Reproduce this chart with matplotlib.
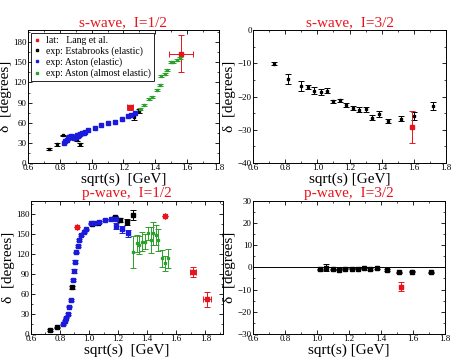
import numpy as np
import matplotlib
matplotlib.use('Agg')
import matplotlib.pyplot as plt
from matplotlib.ticker import MultipleLocator
from matplotlib.lines import Line2D

plt.rcParams['font.family'] = ['Liberation Serif', 'DejaVu Serif']

RED = '#e8141c'
BLUE = '#1a1adc'
GREEN = '#2ca02c'
BLACK = 'black'

# ---- s-wave, I=1/2 ----
s12_lat_x = [1.241, 1.561]
s12_lat_y = [82.8, 163.0]
s12_lat_xerr = [0.02, 0.073]
s12_lat_yerr = [4.0, 28.0]

s12_est_x = [0.734, 0.784, 0.822, 0.91, 0.927, 1.265, 1.30]
s12_est_y = [21.0, 28.0, 41.0, 35.0, 28.0, 68.0, 78.0]
s12_est_err = [2.0, 2.0, 1.0, 2.0, 2.0, 4.0, 3.0]

s12_ast_x = [0.825, 0.835, 0.845, 0.85, 0.855, 0.86, 0.865, 0.87, 0.875, 0.88,
             0.885, 0.89, 0.895, 0.90, 0.905, 0.91, 0.915, 0.92, 0.93, 0.94,
             0.95, 0.96, 0.98, 1.02, 1.06, 1.105, 1.146, 1.188, 1.23, 1.25, 1.272]
s12_ast_y = [30, 33, 35, 37, 38, 39, 38, 40, 39, 38,
             38, 37, 38, 39, 41, 40, 40, 42, 43, 44,
             45, 46, 49, 52, 56, 60, 61, 66, 70, 72, 74]

s12_aae_x = [1.304, 1.329, 1.362, 1.379, 1.408, 1.429, 1.437, 1.459, 1.475,
             1.496, 1.513, 1.534, 1.555]
s12_aae_y = [81, 86, 95, 99, 109, 116, 130, 133, 139, 150, 151, 153, 156]

# ---- s-wave, I=3/2 ----
s32_x = [0.73, 0.82, 0.90, 0.94, 0.98, 1.02, 1.06, 1.10, 1.14, 1.18, 1.22,
         1.26, 1.30, 1.34, 1.38, 1.44, 1.52, 1.60, 1.72]
s32_y = [-10.1, -14.8, -16.8, -17.1, -18.2, -18.6, -18.2, -21.4, -21.1, -22.5,
         -23.5, -23.9, -23.8, -26.4, -25.2, -27.4, -26.7, -25.8, -22.8]
s32_err = [0.4, 1.5, 1.5, 0.6, 1.0, 1.0, 0.8, 0.5, 0.5, 0.5,
           0.6, 0.7, 0.7, 0.7, 1.0, 0.6, 0.7, 1.2, 1.1]
s32_lat_x = [1.59]
s32_lat_y = [-29.1]
s32_lat_err = [4.9]

# ---- p-wave, I=1/2 ----
p12_blk_x = [0.732, 0.777, 0.884, 1.02, 1.06, 1.18, 1.216, 1.258, 1.305]
p12_blk_y = [6, 10, 70, 165, 167, 175, 171, 168, 178.5]
p12_blk_err = [1, 1, 2, 2, 2, 2, 3, 4, 8]

p12_blu_x = [0.823, 0.834, 0.845, 0.855, 0.864, 0.873, 0.893, 0.90, 0.902,
             0.914, 0.925, 0.934, 0.948, 0.966, 0.982, 1.011, 1.034, 1.066,
             1.107, 1.148, 1.187, 1.187, 1.225, 1.266]
p12_blu_y = [14.5, 20, 24.5, 30, 41, 51, 81, 94.5, 108.5,
             122.5, 132, 141, 148.5, 152.5, 157, 166, 166, 168,
             171, 172, 172.5, 162, 157, 151]
p12_blu_err = [1, 1, 1, 1, 1, 1, 2, 3, 2,
               1, 1, 1, 1, 1, 1, 1, 1, 1,
               1, 1, 1, 5, 5, 5]

p12_grn_x = [1.304, 1.327, 1.345, 1.364, 1.386, 1.409, 1.425, 1.441, 1.459,
             1.477, 1.504, 1.523, 1.545]
p12_grn_y = [123.5, 136, 133.5, 138.5, 138.5, 151, 141, 151, 148.5,
             141, 113.5, 106, 113.5]
p12_grn_err = [24, 12.5, 14, 14, 11, 10, 20, 17.5, 14.5, 16, 12.5, 11, 14]

p12_lat_x = [0.918, 1.52, 1.716, 1.811]
p12_lat_y = [161, 177.5, 93.5, 52]
p12_lat_xerr = [0.0, 0.0, 0.023, 0.03]
p12_lat_yerr = [0.0, 0.0, 7.5, 11]

# ---- p-wave, I=3/2 ----
p32_x = [1.016, 1.058, 1.10, 1.135, 1.176, 1.218, 1.253, 1.295, 1.332, 1.374,
         1.436, 1.513, 1.592, 1.713]
p32_y = [-0.9, -0.2, -0.9, -1.05, -0.6, -0.6, -0.6, -0.15, -0.75, -0.3,
         -1.2, -2.25, -1.95, -2.25]
p32_err = [0.3, 1.5, 0.3, 0.3, 0.3, 0.3, 0.3, 0.3, 0.3, 0.3, 0.3, 0.3, 0.3, 0.3]
p32_lat_x = [1.525]
p32_lat_y = [-8.7]
p32_lat_err = [2.0]

legend_labels = ['lat:   Lang et al.', 'exp: Estabrooks (elastic)',
                 'exp: Aston (elastic)', 'exp: Aston (almost elastic)']
legend_colors = [RED, BLACK, BLUE, GREEN]


def eb(ax, x, y, yerr, color, xerr=None, ms=2.4):
    ax.errorbar(x, y, yerr=yerr, xerr=xerr, fmt='s', ms=ms, color=color,
                ecolor=color, elinewidth=0.7, capsize=2, capthick=0.7)


def style(ax, title, xlabel, xlim, ylim, ymaj, ymin):
    ax.set_xlim(*xlim)
    ax.set_ylim(*ylim)
    ax.xaxis.set_major_locator(MultipleLocator(0.2))
    ax.xaxis.set_minor_locator(MultipleLocator(0.1))
    ax.yaxis.set_major_locator(MultipleLocator(ymaj))
    ax.yaxis.set_minor_locator(MultipleLocator(ymin))
    ax.tick_params(which='both', direction='in', top=True, right=True,
                   labelsize=6.5, pad=1)
    ax.tick_params(which='major', length=3, width=0.6)
    ax.tick_params(which='minor', length=1.5, width=0.5)
    ax.set_title(title, color=RED, fontsize=11, pad=3)
    ax.set_xlabel(xlabel, fontsize=11, labelpad=0)
    ax.set_ylabel('δ  [degrees]', fontsize=11, labelpad=1)
    for s in ax.spines.values():
        s.set_linewidth(0.7)


fig = plt.figure(figsize=(4.74, 3.63), dpi=100)
ax1 = fig.add_axes([0.059, 0.551, 0.403, 0.366])
ax2 = fig.add_axes([0.534, 0.551, 0.407, 0.366])
ax3 = fig.add_axes([0.065, 0.080, 0.405, 0.367])
ax4 = fig.add_axes([0.534, 0.080, 0.405, 0.367])

# s-wave I=1/2
eb(ax1, s12_lat_x, s12_lat_y, s12_lat_yerr, RED, xerr=s12_lat_xerr)
eb(ax1, s12_est_x, s12_est_y, s12_est_err, BLACK, ms=1.8)
eb(ax1, s12_ast_x, s12_ast_y, None, BLUE)
eb(ax1, s12_aae_x, s12_aae_y, 1.5, GREEN, ms=1.8)
style(ax1, 's-wave,  I=1/2', 'sqrt(s)  [GeV]', (0.6, 1.8), (0, 198), 30, 15)
handles = [Line2D([], [], ls='none', marker='s', ms=1.5, color=c)
           for c in legend_colors]
leg = ax1.legend(handles, legend_labels, loc='upper left', fontsize=7,
                 frameon=True, fancybox=False, edgecolor='black',
                 handlelength=0.6, handletextpad=0.7, borderpad=0.3,
                 labelspacing=0.15, borderaxespad=0.3, framealpha=1)
leg.get_frame().set_linewidth(0.6)

# s-wave I=3/2
eb(ax2, s32_x, s32_y, s32_err, BLACK, ms=1.8)
eb(ax2, s32_lat_x, s32_lat_y, s32_lat_err, RED)
style(ax2, 's-wave,  I=3/2', 'sqrt(s) [GeV]', (0.6, 1.8), (-40, 0), 10, 5)

# p-wave I=1/2
eb(ax3, p12_blk_x, p12_blk_y, p12_blk_err, BLACK)
eb(ax3, p12_blu_x, p12_blu_y, p12_blu_err, BLUE)
eb(ax3, p12_grn_x, p12_grn_y, p12_grn_err, GREEN, ms=1.5)
eb(ax3, p12_lat_x, p12_lat_y, p12_lat_yerr, RED, xerr=p12_lat_xerr)
style(ax3, 'p-wave,  I=1/2', 'sqrt(s)  [GeV]', (0.6, 1.92), (0, 200), 30, 15)

# p-wave I=3/2
ax4.axhline(0, color='black', lw=0.7)
eb(ax4, p32_x, p32_y, p32_err, BLACK)
eb(ax4, p32_lat_x, p32_lat_y, p32_lat_err, RED)
style(ax4, 'p-wave,  I=3/2', 'sqrt(s) [GeV]', (0.6, 1.8), (-30, 30), 10, 5)

fig.savefig('out.png', dpi=100)
